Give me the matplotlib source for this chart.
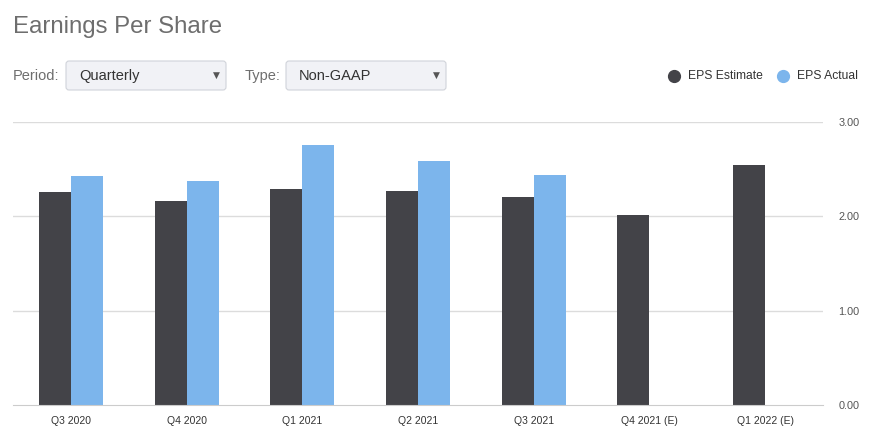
import matplotlib
matplotlib.use('Agg')
import matplotlib.pyplot as plt
import numpy as np
from matplotlib.patches import FancyBboxPatch
from matplotlib.lines import Line2D

plt.rcParams['font.family'] = ['Liberation Sans', 'DejaVu Sans']

# データ
quarters = ['Q3 2020', 'Q4 2020', 'Q1 2021', 'Q2 2021', 'Q3 2021', 'Q4 2021 (E)', 'Q1 2022 (E)']
eps_estimate = [2.26, 2.16, 2.29, 2.27, 2.20, 2.01, 2.54]
eps_actual = [2.43, 2.37, 2.76, 2.59, 2.44, np.nan, np.nan]
y_ticks = [0, 1, 2, 3]

dark = '#434348'
blue = '#7cb5ec'

W, H = 870, 433
fig = plt.figure(figsize=(W / 100, H / 100), dpi=100)
px = fig.dpi_scale_trans


def P(x, y):
    # ピクセル座標(上から) -> インチ
    return x / 100, (H - y) / 100


# タイトル
fig.text(*P(13, 27), 'Earnings Per Share', transform=px, fontsize=17.3,
         color='#6e6e6e', va='center', ha='left')

# ドロップダウン
for label, lx, box_x, value in [('Period:', 13, 66, 'Quarterly'), ('Type:', 245, 286, 'Non-GAAP')]:
    fig.text(*P(lx, 76), label, transform=px, fontsize=10.5, color='#6e6e6e', va='center')
    bx, by = P(box_x, 90)
    fig.add_artist(FancyBboxPatch((bx, by), 1.60, 0.29, boxstyle='round,pad=0,rounding_size=0.03',
                                  transform=px, facecolor='#f1f2f6', edgecolor='#d0d3da', linewidth=0.8))
    fig.text(*P(box_x + 13, 76), value, transform=px, fontsize=10.5, color='#333333', va='center')
    fig.text(*P(box_x + 150, 75), '▼', transform=px, fontsize=6.5, color='#555555',
             va='center', ha='center', family='DejaVu Sans')

# 凡例
for cx, color, text in [(674, dark, 'EPS Estimate'), (783, blue, 'EPS Actual')]:
    fig.add_artist(Line2D([cx / 100], [(H - 76) / 100], marker='o', markersize=8.5,
                          color=color, transform=px))
    fig.text(*P(cx + 14, 76), text, transform=px, fontsize=8.7, color='#333333', va='center')

# グラフ本体
ax = fig.add_axes([13 / W, (H - 405) / H, 810 / W, 283 / H])
x = np.arange(len(quarters))
bw = 0.277
ax.bar(x - bw / 2, eps_estimate, width=bw, color=dark, zorder=2)
ax.bar(x + bw / 2, eps_actual, width=bw, color=blue, zorder=2)

ax.set_xlim(-0.5, len(quarters) - 0.5)
ax.set_ylim(0, 3)
ax.set_yticks(y_ticks)
ax.set_yticklabels([f'{v:.2f}' for v in y_ticks])
ax.yaxis.tick_right()
ax.set_xticks(x)
ax.set_xticklabels(quarters)
ax.tick_params(axis='x', length=0, pad=8, labelsize=7.5, labelcolor='#333333')
ax.tick_params(axis='y', length=0, pad=11, labelsize=7.8, labelcolor='#555555')
for v in y_ticks[1:]:
    ax.axhline(v, color='#dcdcdc', linewidth=1, zorder=1)
for s in ['top', 'left', 'right']:
    ax.spines[s].set_visible(False)
ax.spines['bottom'].set_color('#cccccc')
ax.spines['bottom'].set_zorder(3)

fig.savefig('out.png', dpi=100)
